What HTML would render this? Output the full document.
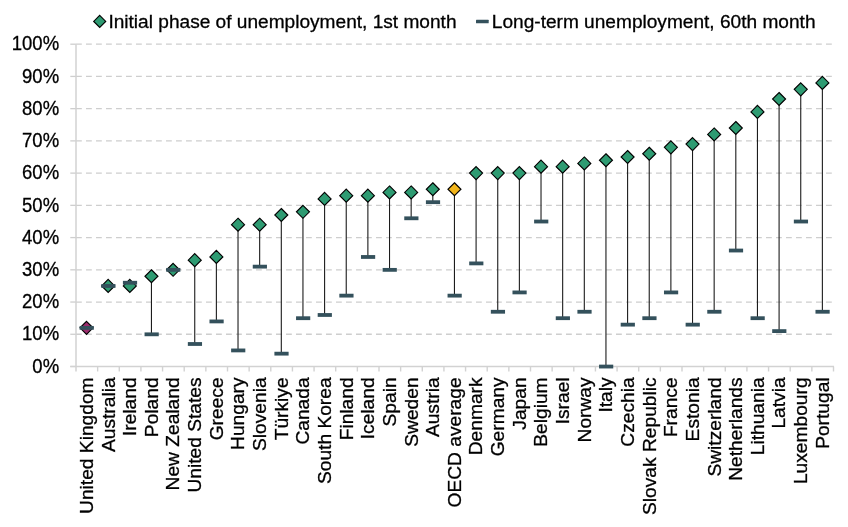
<!DOCTYPE html>
<html><head><meta charset="utf-8"><title>Chart</title>
<style>html,body{margin:0;padding:0;background:#fff}svg{display:block}text{font-family:"Liberation Sans",Arial,sans-serif;font-size:19.2px;fill:#000;stroke:#000;stroke-width:0.3px}</style></head><body>
<svg width="848" height="527" viewBox="0 0 848 527">
<rect width="848" height="527" fill="#fff"/>
<line x1="76.0" y1="334.27" x2="832.5" y2="334.27" stroke="#cecece" stroke-width="1.3" stroke-dasharray="5.8 4.2"/>
<line x1="76.0" y1="302.04" x2="832.5" y2="302.04" stroke="#cecece" stroke-width="1.3" stroke-dasharray="5.8 4.2"/>
<line x1="76.0" y1="269.81" x2="832.5" y2="269.81" stroke="#cecece" stroke-width="1.3" stroke-dasharray="5.8 4.2"/>
<line x1="76.0" y1="237.58" x2="832.5" y2="237.58" stroke="#cecece" stroke-width="1.3" stroke-dasharray="5.8 4.2"/>
<line x1="76.0" y1="205.35" x2="832.5" y2="205.35" stroke="#cecece" stroke-width="1.3" stroke-dasharray="5.8 4.2"/>
<line x1="76.0" y1="173.12" x2="832.5" y2="173.12" stroke="#cecece" stroke-width="1.3" stroke-dasharray="5.8 4.2"/>
<line x1="76.0" y1="140.89" x2="832.5" y2="140.89" stroke="#cecece" stroke-width="1.3" stroke-dasharray="5.8 4.2"/>
<line x1="76.0" y1="108.66" x2="832.5" y2="108.66" stroke="#cecece" stroke-width="1.3" stroke-dasharray="5.8 4.2"/>
<line x1="76.0" y1="76.43" x2="832.5" y2="76.43" stroke="#cecece" stroke-width="1.3" stroke-dasharray="5.8 4.2"/>
<line x1="76.0" y1="44.20" x2="832.5" y2="44.20" stroke="#cecece" stroke-width="1.3" stroke-dasharray="5.8 4.2"/>
<line x1="70.3" y1="366.50" x2="76.0" y2="366.50" stroke="#cecece" stroke-width="1.3"/>
<text transform="translate(59.1 372.70) scale(0.945 1)" text-anchor="end" style="font-size:19.6px">0%</text>
<line x1="70.3" y1="334.27" x2="76.0" y2="334.27" stroke="#cecece" stroke-width="1.3"/>
<text transform="translate(59.1 340.47) scale(0.945 1)" text-anchor="end" style="font-size:19.6px">10%</text>
<line x1="70.3" y1="302.04" x2="76.0" y2="302.04" stroke="#cecece" stroke-width="1.3"/>
<text transform="translate(59.1 308.24) scale(0.945 1)" text-anchor="end" style="font-size:19.6px">20%</text>
<line x1="70.3" y1="269.81" x2="76.0" y2="269.81" stroke="#cecece" stroke-width="1.3"/>
<text transform="translate(59.1 276.01) scale(0.945 1)" text-anchor="end" style="font-size:19.6px">30%</text>
<line x1="70.3" y1="237.58" x2="76.0" y2="237.58" stroke="#cecece" stroke-width="1.3"/>
<text transform="translate(59.1 243.78) scale(0.945 1)" text-anchor="end" style="font-size:19.6px">40%</text>
<line x1="70.3" y1="205.35" x2="76.0" y2="205.35" stroke="#cecece" stroke-width="1.3"/>
<text transform="translate(59.1 211.55) scale(0.945 1)" text-anchor="end" style="font-size:19.6px">50%</text>
<line x1="70.3" y1="173.12" x2="76.0" y2="173.12" stroke="#cecece" stroke-width="1.3"/>
<text transform="translate(59.1 179.32) scale(0.945 1)" text-anchor="end" style="font-size:19.6px">60%</text>
<line x1="70.3" y1="140.89" x2="76.0" y2="140.89" stroke="#cecece" stroke-width="1.3"/>
<text transform="translate(59.1 147.09) scale(0.945 1)" text-anchor="end" style="font-size:19.6px">70%</text>
<line x1="70.3" y1="108.66" x2="76.0" y2="108.66" stroke="#cecece" stroke-width="1.3"/>
<text transform="translate(59.1 114.86) scale(0.945 1)" text-anchor="end" style="font-size:19.6px">80%</text>
<line x1="70.3" y1="76.43" x2="76.0" y2="76.43" stroke="#cecece" stroke-width="1.3"/>
<text transform="translate(59.1 82.63) scale(0.945 1)" text-anchor="end" style="font-size:19.6px">90%</text>
<line x1="70.3" y1="44.20" x2="76.0" y2="44.20" stroke="#cecece" stroke-width="1.3"/>
<text transform="translate(59.1 50.40) scale(0.945 1)" text-anchor="end" style="font-size:19.6px">100%</text>
<line x1="76.0" y1="44.2" x2="76.0" y2="371.5" stroke="#d2d2d2" stroke-width="1.5"/>
<line x1="70.3" y1="366.5" x2="834.0" y2="366.5" stroke="#d2d2d2" stroke-width="1.5"/>
<line x1="97.64" y1="366.5" x2="97.64" y2="371.5" stroke="#d2d2d2" stroke-width="1.4"/>
<line x1="119.29" y1="366.5" x2="119.29" y2="371.5" stroke="#d2d2d2" stroke-width="1.4"/>
<line x1="140.93" y1="366.5" x2="140.93" y2="371.5" stroke="#d2d2d2" stroke-width="1.4"/>
<line x1="162.57" y1="366.5" x2="162.57" y2="371.5" stroke="#d2d2d2" stroke-width="1.4"/>
<line x1="184.21" y1="366.5" x2="184.21" y2="371.5" stroke="#d2d2d2" stroke-width="1.4"/>
<line x1="205.86" y1="366.5" x2="205.86" y2="371.5" stroke="#d2d2d2" stroke-width="1.4"/>
<line x1="227.50" y1="366.5" x2="227.50" y2="371.5" stroke="#d2d2d2" stroke-width="1.4"/>
<line x1="249.14" y1="366.5" x2="249.14" y2="371.5" stroke="#d2d2d2" stroke-width="1.4"/>
<line x1="270.79" y1="366.5" x2="270.79" y2="371.5" stroke="#d2d2d2" stroke-width="1.4"/>
<line x1="292.43" y1="366.5" x2="292.43" y2="371.5" stroke="#d2d2d2" stroke-width="1.4"/>
<line x1="314.07" y1="366.5" x2="314.07" y2="371.5" stroke="#d2d2d2" stroke-width="1.4"/>
<line x1="335.71" y1="366.5" x2="335.71" y2="371.5" stroke="#d2d2d2" stroke-width="1.4"/>
<line x1="357.36" y1="366.5" x2="357.36" y2="371.5" stroke="#d2d2d2" stroke-width="1.4"/>
<line x1="379.00" y1="366.5" x2="379.00" y2="371.5" stroke="#d2d2d2" stroke-width="1.4"/>
<line x1="400.64" y1="366.5" x2="400.64" y2="371.5" stroke="#d2d2d2" stroke-width="1.4"/>
<line x1="422.29" y1="366.5" x2="422.29" y2="371.5" stroke="#d2d2d2" stroke-width="1.4"/>
<line x1="443.93" y1="366.5" x2="443.93" y2="371.5" stroke="#d2d2d2" stroke-width="1.4"/>
<line x1="465.57" y1="366.5" x2="465.57" y2="371.5" stroke="#d2d2d2" stroke-width="1.4"/>
<line x1="487.21" y1="366.5" x2="487.21" y2="371.5" stroke="#d2d2d2" stroke-width="1.4"/>
<line x1="508.86" y1="366.5" x2="508.86" y2="371.5" stroke="#d2d2d2" stroke-width="1.4"/>
<line x1="530.50" y1="366.5" x2="530.50" y2="371.5" stroke="#d2d2d2" stroke-width="1.4"/>
<line x1="552.14" y1="366.5" x2="552.14" y2="371.5" stroke="#d2d2d2" stroke-width="1.4"/>
<line x1="573.79" y1="366.5" x2="573.79" y2="371.5" stroke="#d2d2d2" stroke-width="1.4"/>
<line x1="595.43" y1="366.5" x2="595.43" y2="371.5" stroke="#d2d2d2" stroke-width="1.4"/>
<line x1="617.07" y1="366.5" x2="617.07" y2="371.5" stroke="#d2d2d2" stroke-width="1.4"/>
<line x1="638.71" y1="366.5" x2="638.71" y2="371.5" stroke="#d2d2d2" stroke-width="1.4"/>
<line x1="660.36" y1="366.5" x2="660.36" y2="371.5" stroke="#d2d2d2" stroke-width="1.4"/>
<line x1="682.00" y1="366.5" x2="682.00" y2="371.5" stroke="#d2d2d2" stroke-width="1.4"/>
<line x1="703.64" y1="366.5" x2="703.64" y2="371.5" stroke="#d2d2d2" stroke-width="1.4"/>
<line x1="725.29" y1="366.5" x2="725.29" y2="371.5" stroke="#d2d2d2" stroke-width="1.4"/>
<line x1="746.93" y1="366.5" x2="746.93" y2="371.5" stroke="#d2d2d2" stroke-width="1.4"/>
<line x1="768.57" y1="366.5" x2="768.57" y2="371.5" stroke="#d2d2d2" stroke-width="1.4"/>
<line x1="790.21" y1="366.5" x2="790.21" y2="371.5" stroke="#d2d2d2" stroke-width="1.4"/>
<line x1="811.86" y1="366.5" x2="811.86" y2="371.5" stroke="#d2d2d2" stroke-width="1.4"/>
<line x1="833.50" y1="366.5" x2="833.50" y2="371.5" stroke="#d2d2d2" stroke-width="1.4"/>
<line x1="129.81" y1="285.93" x2="129.81" y2="282.70" stroke="#1c1c1c" stroke-width="1.1"/>
<line x1="151.45" y1="276.26" x2="151.45" y2="334.27" stroke="#1c1c1c" stroke-width="1.1"/>
<line x1="194.74" y1="260.14" x2="194.74" y2="343.94" stroke="#1c1c1c" stroke-width="1.1"/>
<line x1="216.38" y1="256.92" x2="216.38" y2="321.38" stroke="#1c1c1c" stroke-width="1.1"/>
<line x1="238.02" y1="224.69" x2="238.02" y2="350.38" stroke="#1c1c1c" stroke-width="1.1"/>
<line x1="259.66" y1="224.69" x2="259.66" y2="266.59" stroke="#1c1c1c" stroke-width="1.1"/>
<line x1="281.31" y1="215.02" x2="281.31" y2="353.61" stroke="#1c1c1c" stroke-width="1.1"/>
<line x1="302.95" y1="211.80" x2="302.95" y2="318.15" stroke="#1c1c1c" stroke-width="1.1"/>
<line x1="324.59" y1="198.90" x2="324.59" y2="314.93" stroke="#1c1c1c" stroke-width="1.1"/>
<line x1="346.24" y1="195.68" x2="346.24" y2="295.59" stroke="#1c1c1c" stroke-width="1.1"/>
<line x1="367.88" y1="195.68" x2="367.88" y2="256.92" stroke="#1c1c1c" stroke-width="1.1"/>
<line x1="389.52" y1="192.46" x2="389.52" y2="269.81" stroke="#1c1c1c" stroke-width="1.1"/>
<line x1="411.16" y1="192.46" x2="411.16" y2="218.24" stroke="#1c1c1c" stroke-width="1.1"/>
<line x1="432.81" y1="189.24" x2="432.81" y2="202.13" stroke="#1c1c1c" stroke-width="1.1"/>
<line x1="454.45" y1="189.24" x2="454.45" y2="295.59" stroke="#1c1c1c" stroke-width="1.1"/>
<line x1="476.09" y1="173.12" x2="476.09" y2="263.36" stroke="#1c1c1c" stroke-width="1.1"/>
<line x1="497.74" y1="173.12" x2="497.74" y2="311.71" stroke="#1c1c1c" stroke-width="1.1"/>
<line x1="519.38" y1="173.12" x2="519.38" y2="292.37" stroke="#1c1c1c" stroke-width="1.1"/>
<line x1="541.02" y1="166.67" x2="541.02" y2="221.47" stroke="#1c1c1c" stroke-width="1.1"/>
<line x1="562.66" y1="166.67" x2="562.66" y2="318.15" stroke="#1c1c1c" stroke-width="1.1"/>
<line x1="584.31" y1="163.45" x2="584.31" y2="311.71" stroke="#1c1c1c" stroke-width="1.1"/>
<line x1="605.95" y1="160.23" x2="605.95" y2="366.50" stroke="#1c1c1c" stroke-width="1.1"/>
<line x1="627.59" y1="157.00" x2="627.59" y2="324.60" stroke="#1c1c1c" stroke-width="1.1"/>
<line x1="649.24" y1="153.78" x2="649.24" y2="318.15" stroke="#1c1c1c" stroke-width="1.1"/>
<line x1="670.88" y1="147.34" x2="670.88" y2="292.37" stroke="#1c1c1c" stroke-width="1.1"/>
<line x1="692.52" y1="144.11" x2="692.52" y2="324.60" stroke="#1c1c1c" stroke-width="1.1"/>
<line x1="714.16" y1="134.44" x2="714.16" y2="311.71" stroke="#1c1c1c" stroke-width="1.1"/>
<line x1="735.81" y1="128.00" x2="735.81" y2="250.47" stroke="#1c1c1c" stroke-width="1.1"/>
<line x1="757.45" y1="111.88" x2="757.45" y2="318.15" stroke="#1c1c1c" stroke-width="1.1"/>
<line x1="779.09" y1="98.99" x2="779.09" y2="331.05" stroke="#1c1c1c" stroke-width="1.1"/>
<line x1="800.74" y1="89.32" x2="800.74" y2="221.47" stroke="#1c1c1c" stroke-width="1.1"/>
<line x1="822.38" y1="82.88" x2="822.38" y2="311.71" stroke="#1c1c1c" stroke-width="1.1"/>
<path d="M86.52 321.32L93.02 327.82L86.52 334.32L80.02 327.82Z" fill="#9c2b6c" stroke="#000" stroke-width="1.15" stroke-linejoin="miter"/>
<path d="M108.16 279.43L114.66 285.93L108.16 292.43L101.66 285.93Z" fill="#2e9b72" stroke="#000" stroke-width="1.15" stroke-linejoin="miter"/>
<path d="M129.81 279.43L136.31 285.93L129.81 292.43L123.31 285.93Z" fill="#2e9b72" stroke="#000" stroke-width="1.15" stroke-linejoin="miter"/>
<path d="M151.45 269.76L157.95 276.26L151.45 282.76L144.95 276.26Z" fill="#2e9b72" stroke="#000" stroke-width="1.15" stroke-linejoin="miter"/>
<path d="M173.09 263.31L179.59 269.81L173.09 276.31L166.59 269.81Z" fill="#2e9b72" stroke="#000" stroke-width="1.15" stroke-linejoin="miter"/>
<path d="M194.74 253.64L201.24 260.14L194.74 266.64L188.24 260.14Z" fill="#2e9b72" stroke="#000" stroke-width="1.15" stroke-linejoin="miter"/>
<path d="M216.38 250.42L222.88 256.92L216.38 263.42L209.88 256.92Z" fill="#2e9b72" stroke="#000" stroke-width="1.15" stroke-linejoin="miter"/>
<path d="M238.02 218.19L244.52 224.69L238.02 231.19L231.52 224.69Z" fill="#2e9b72" stroke="#000" stroke-width="1.15" stroke-linejoin="miter"/>
<path d="M259.66 218.19L266.16 224.69L259.66 231.19L253.16 224.69Z" fill="#2e9b72" stroke="#000" stroke-width="1.15" stroke-linejoin="miter"/>
<path d="M281.31 208.52L287.81 215.02L281.31 221.52L274.81 215.02Z" fill="#2e9b72" stroke="#000" stroke-width="1.15" stroke-linejoin="miter"/>
<path d="M302.95 205.30L309.45 211.80L302.95 218.30L296.45 211.80Z" fill="#2e9b72" stroke="#000" stroke-width="1.15" stroke-linejoin="miter"/>
<path d="M324.59 192.40L331.09 198.90L324.59 205.40L318.09 198.90Z" fill="#2e9b72" stroke="#000" stroke-width="1.15" stroke-linejoin="miter"/>
<path d="M346.24 189.18L352.74 195.68L346.24 202.18L339.74 195.68Z" fill="#2e9b72" stroke="#000" stroke-width="1.15" stroke-linejoin="miter"/>
<path d="M367.88 189.18L374.38 195.68L367.88 202.18L361.38 195.68Z" fill="#2e9b72" stroke="#000" stroke-width="1.15" stroke-linejoin="miter"/>
<path d="M389.52 185.96L396.02 192.46L389.52 198.96L383.02 192.46Z" fill="#2e9b72" stroke="#000" stroke-width="1.15" stroke-linejoin="miter"/>
<path d="M411.16 185.96L417.66 192.46L411.16 198.96L404.66 192.46Z" fill="#2e9b72" stroke="#000" stroke-width="1.15" stroke-linejoin="miter"/>
<path d="M432.81 182.74L439.31 189.24L432.81 195.74L426.31 189.24Z" fill="#2e9b72" stroke="#000" stroke-width="1.15" stroke-linejoin="miter"/>
<path d="M454.45 182.74L460.95 189.24L454.45 195.74L447.95 189.24Z" fill="#f2b51a" stroke="#000" stroke-width="1.15" stroke-linejoin="miter"/>
<path d="M476.09 166.62L482.59 173.12L476.09 179.62L469.59 173.12Z" fill="#2e9b72" stroke="#000" stroke-width="1.15" stroke-linejoin="miter"/>
<path d="M497.74 166.62L504.24 173.12L497.74 179.62L491.24 173.12Z" fill="#2e9b72" stroke="#000" stroke-width="1.15" stroke-linejoin="miter"/>
<path d="M519.38 166.62L525.88 173.12L519.38 179.62L512.88 173.12Z" fill="#2e9b72" stroke="#000" stroke-width="1.15" stroke-linejoin="miter"/>
<path d="M541.02 160.17L547.52 166.67L541.02 173.17L534.52 166.67Z" fill="#2e9b72" stroke="#000" stroke-width="1.15" stroke-linejoin="miter"/>
<path d="M562.66 160.17L569.16 166.67L562.66 173.17L556.16 166.67Z" fill="#2e9b72" stroke="#000" stroke-width="1.15" stroke-linejoin="miter"/>
<path d="M584.31 156.95L590.81 163.45L584.31 169.95L577.81 163.45Z" fill="#2e9b72" stroke="#000" stroke-width="1.15" stroke-linejoin="miter"/>
<path d="M605.95 153.73L612.45 160.23L605.95 166.73L599.45 160.23Z" fill="#2e9b72" stroke="#000" stroke-width="1.15" stroke-linejoin="miter"/>
<path d="M627.59 150.50L634.09 157.00L627.59 163.50L621.09 157.00Z" fill="#2e9b72" stroke="#000" stroke-width="1.15" stroke-linejoin="miter"/>
<path d="M649.24 147.28L655.74 153.78L649.24 160.28L642.74 153.78Z" fill="#2e9b72" stroke="#000" stroke-width="1.15" stroke-linejoin="miter"/>
<path d="M670.88 140.84L677.38 147.34L670.88 153.84L664.38 147.34Z" fill="#2e9b72" stroke="#000" stroke-width="1.15" stroke-linejoin="miter"/>
<path d="M692.52 137.61L699.02 144.11L692.52 150.61L686.02 144.11Z" fill="#2e9b72" stroke="#000" stroke-width="1.15" stroke-linejoin="miter"/>
<path d="M714.16 127.94L720.66 134.44L714.16 140.94L707.66 134.44Z" fill="#2e9b72" stroke="#000" stroke-width="1.15" stroke-linejoin="miter"/>
<path d="M735.81 121.50L742.31 128.00L735.81 134.50L729.31 128.00Z" fill="#2e9b72" stroke="#000" stroke-width="1.15" stroke-linejoin="miter"/>
<path d="M757.45 105.38L763.95 111.88L757.45 118.38L750.95 111.88Z" fill="#2e9b72" stroke="#000" stroke-width="1.15" stroke-linejoin="miter"/>
<path d="M779.09 92.49L785.59 98.99L779.09 105.49L772.59 98.99Z" fill="#2e9b72" stroke="#000" stroke-width="1.15" stroke-linejoin="miter"/>
<path d="M800.74 82.82L807.24 89.32L800.74 95.82L794.24 89.32Z" fill="#2e9b72" stroke="#000" stroke-width="1.15" stroke-linejoin="miter"/>
<path d="M822.38 76.38L828.88 82.88L822.38 89.38L815.88 82.88Z" fill="#2e9b72" stroke="#000" stroke-width="1.15" stroke-linejoin="miter"/>
<rect x="79.62" y="325.97" width="14.2" height="3.8" fill="#34515c"/>
<rect x="101.26" y="284.07" width="14.2" height="3.8" fill="#34515c"/>
<rect x="122.91" y="280.85" width="14.2" height="3.8" fill="#34515c"/>
<rect x="144.55" y="332.42" width="14.2" height="3.8" fill="#34515c"/>
<rect x="166.19" y="267.96" width="14.2" height="3.8" fill="#34515c"/>
<rect x="187.84" y="342.09" width="14.2" height="3.8" fill="#34515c"/>
<rect x="209.48" y="319.53" width="14.2" height="3.8" fill="#34515c"/>
<rect x="231.12" y="348.53" width="14.2" height="3.8" fill="#34515c"/>
<rect x="252.76" y="264.74" width="14.2" height="3.8" fill="#34515c"/>
<rect x="274.41" y="351.76" width="14.2" height="3.8" fill="#34515c"/>
<rect x="296.05" y="316.30" width="14.2" height="3.8" fill="#34515c"/>
<rect x="317.69" y="313.08" width="14.2" height="3.8" fill="#34515c"/>
<rect x="339.34" y="293.74" width="14.2" height="3.8" fill="#34515c"/>
<rect x="360.98" y="255.07" width="14.2" height="3.8" fill="#34515c"/>
<rect x="382.62" y="267.96" width="14.2" height="3.8" fill="#34515c"/>
<rect x="404.26" y="216.39" width="14.2" height="3.8" fill="#34515c"/>
<rect x="425.91" y="200.28" width="14.2" height="3.8" fill="#34515c"/>
<rect x="447.55" y="293.74" width="14.2" height="3.8" fill="#34515c"/>
<rect x="469.19" y="261.51" width="14.2" height="3.8" fill="#34515c"/>
<rect x="490.84" y="309.86" width="14.2" height="3.8" fill="#34515c"/>
<rect x="512.48" y="290.52" width="14.2" height="3.8" fill="#34515c"/>
<rect x="534.12" y="219.62" width="14.2" height="3.8" fill="#34515c"/>
<rect x="555.76" y="316.30" width="14.2" height="3.8" fill="#34515c"/>
<rect x="577.41" y="309.86" width="14.2" height="3.8" fill="#34515c"/>
<rect x="599.05" y="364.65" width="14.2" height="3.8" fill="#34515c"/>
<rect x="620.69" y="322.75" width="14.2" height="3.8" fill="#34515c"/>
<rect x="642.34" y="316.30" width="14.2" height="3.8" fill="#34515c"/>
<rect x="663.98" y="290.52" width="14.2" height="3.8" fill="#34515c"/>
<rect x="685.62" y="322.75" width="14.2" height="3.8" fill="#34515c"/>
<rect x="707.26" y="309.86" width="14.2" height="3.8" fill="#34515c"/>
<rect x="728.91" y="248.62" width="14.2" height="3.8" fill="#34515c"/>
<rect x="750.55" y="316.30" width="14.2" height="3.8" fill="#34515c"/>
<rect x="772.19" y="329.20" width="14.2" height="3.8" fill="#34515c"/>
<rect x="793.84" y="219.62" width="14.2" height="3.8" fill="#34515c"/>
<rect x="815.48" y="309.86" width="14.2" height="3.8" fill="#34515c"/>
<text transform="translate(92.92 377.4) rotate(-90)" text-anchor="end">United Kingdom</text>
<text transform="translate(114.56 377.4) rotate(-90)" text-anchor="end">Australia</text>
<text transform="translate(136.21 377.4) rotate(-90)" text-anchor="end">Ireland</text>
<text transform="translate(157.85 377.4) rotate(-90)" text-anchor="end">Poland</text>
<text transform="translate(179.49 377.4) rotate(-90)" text-anchor="end">New Zealand</text>
<text transform="translate(201.14 377.4) rotate(-90)" text-anchor="end">United States</text>
<text transform="translate(222.78 377.4) rotate(-90)" text-anchor="end">Greece</text>
<text transform="translate(244.42 377.4) rotate(-90)" text-anchor="end">Hungary</text>
<text transform="translate(266.06 377.4) rotate(-90)" text-anchor="end">Slovenia</text>
<text transform="translate(287.71 377.4) rotate(-90)" text-anchor="end">Türkiye</text>
<text transform="translate(309.35 377.4) rotate(-90)" text-anchor="end">Canada</text>
<text transform="translate(330.99 377.4) rotate(-90)" text-anchor="end">South Korea</text>
<text transform="translate(352.64 377.4) rotate(-90)" text-anchor="end">Finland</text>
<text transform="translate(374.28 377.4) rotate(-90)" text-anchor="end">Iceland</text>
<text transform="translate(395.92 377.4) rotate(-90)" text-anchor="end">Spain</text>
<text transform="translate(417.56 377.4) rotate(-90)" text-anchor="end">Sweden</text>
<text transform="translate(439.21 377.4) rotate(-90)" text-anchor="end">Austria</text>
<text transform="translate(460.85 377.4) rotate(-90)" text-anchor="end">OECD average</text>
<text transform="translate(482.49 377.4) rotate(-90)" text-anchor="end">Denmark</text>
<text transform="translate(504.14 377.4) rotate(-90)" text-anchor="end">Germany</text>
<text transform="translate(525.78 377.4) rotate(-90)" text-anchor="end">Japan</text>
<text transform="translate(547.42 377.4) rotate(-90)" text-anchor="end">Belgium</text>
<text transform="translate(569.06 377.4) rotate(-90)" text-anchor="end">Israel</text>
<text transform="translate(590.71 377.4) rotate(-90)" text-anchor="end">Norway</text>
<text transform="translate(612.35 377.4) rotate(-90)" text-anchor="end">Italy</text>
<text transform="translate(633.99 377.4) rotate(-90)" text-anchor="end">Czechia</text>
<text transform="translate(655.64 377.4) rotate(-90)" text-anchor="end">Slovak Republic</text>
<text transform="translate(677.28 377.4) rotate(-90)" text-anchor="end">France</text>
<text transform="translate(698.92 377.4) rotate(-90)" text-anchor="end">Estonia</text>
<text transform="translate(720.56 377.4) rotate(-90)" text-anchor="end">Switzerland</text>
<text transform="translate(742.21 377.4) rotate(-90)" text-anchor="end">Netherlands</text>
<text transform="translate(763.85 377.4) rotate(-90)" text-anchor="end">Lithuania</text>
<text transform="translate(785.49 377.4) rotate(-90)" text-anchor="end">Latvia</text>
<text transform="translate(807.14 377.4) rotate(-90)" text-anchor="end">Luxembourg</text>
<text transform="translate(828.78 377.4) rotate(-90)" text-anchor="end">Portugal</text>
<path d="M99.70 15.40L105.70 21.40L99.70 27.40L93.70 21.40Z" fill="#2e9b72" stroke="#000" stroke-width="1.15" stroke-linejoin="miter"/>
<text x="108.4" y="27.8" style="font-size:19.1px">Initial phase of unemployment, 1st month</text>
<rect x="476" y="19.8" width="12.7" height="3.4" rx="0.5" fill="#34515c"/>
<text x="491.8" y="27.8" style="font-size:19.1px">Long-term unemployment, 60th month</text>
</svg></body></html>
